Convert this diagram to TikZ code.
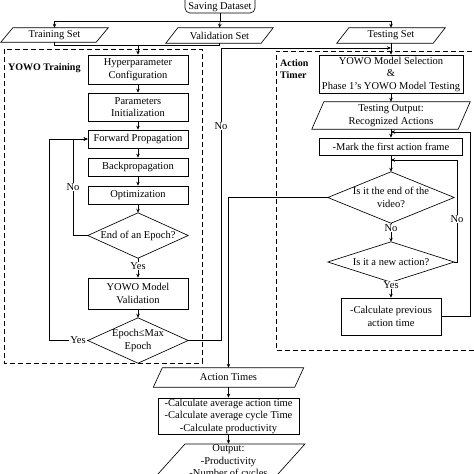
\documentclass[tikz,border=0pt]{standalone}
\usepackage{fontspec}
\setmainfont{Liberation Serif}
\usetikzlibrary{arrows.meta}
\newcommand{\paral}[2]{\draw[ln] ([xshift=#2]#1.north west) -- (#1.north east) -- ([xshift=-#2]#1.south east) -- (#1.south west) -- cycle;}
\newcommand{\diam}[1]{\draw[ln] (#1.north) -- (#1.east) -- (#1.south) -- (#1.west) -- cycle;}
\begin{document}
\begin{tikzpicture}[x=1pt,y=-1pt,
  every node/.style={font=\fontsize{10.5}{12.5}\selectfont, align=center, inner sep=0pt},
  ln/.style={line width=0.65pt},
  arr/.style={ln, -{Stealth[length=4pt,width=3.5pt]}},
  boxn/.style={draw, line width=0.65pt},
  lbl/.style={fill=white, inner sep=1pt},
  dashbox/.style={line width=0.8pt, dash pattern=on 5pt off 3pt},
  ttl/.style={font=\fontsize{10}{12}\selectfont\bfseries, align=left, anchor=west}
]
\useasboundingbox (0,0) rectangle (474,474);
\fill[white] (0,0) rectangle (474,474);
\clip (0,0) rectangle (474,474);

% top
\node[minimum width=70pt, minimum height=11pt] (sd) at (220,7.5) {Saving Dataset};
\draw[ln, rounded corners=5pt] (185,-10) -- (185,13) -- (255,13) -- (255,-10);
\node[minimum width=107pt, minimum height=14pt] (tr) at (54.5,35) {Training Set};
\node[minimum width=107pt, minimum height=15pt] (vs) at (219.5,35.5) {Validation Set};
\node[minimum width=108pt, minimum height=15pt] (ts) at (391,35.5) {Testing Set};
\paral{tr}{12pt}
\paral{vs}{12pt}
\paral{ts}{12pt}
\coordinate (t) at (220,21);
\draw[ln] (sd.south) -- (t);
\draw[ln] (tr.north |- t) -- (ts.north |- t);
\draw[arr] (tr.north |- t) -- (tr.north);
\draw[arr] (t) -- (vs.north);
\draw[arr] (ts.north |- t) -- (ts.north);

% dashed groups
\draw[dashbox] (4,49) rectangle (202,363);
\draw[dashbox] (480,51) -- (276,51) -- (276,350) -- (480,350);
\node[ttl] at (8,68) {YOWO Training};
\node[ttl] at (280,69) {Action\\Timer};

% left column
\node[boxn, minimum width=100pt, minimum height=29pt] (hyp) at (138,69.5) {Hyperparameter\\Configuration};
\node[boxn, minimum width=100pt, minimum height=28pt] (par) at (138,107) {Parameters\\Initialization};
\node[boxn, minimum width=100pt, minimum height=18pt] (fwd) at (138,139) {Forward Propagation};
\node[boxn, minimum width=100pt, minimum height=18pt] (bck) at (138,167) {Backpropagation};
\node[boxn, minimum width=100pt, minimum height=18pt] (opt) at (138,195) {Optimization};
\node[minimum width=100pt, minimum height=45pt] (eoe) at (138,235.5) {End of an Epoch?};
\node[boxn, minimum width=100pt, minimum height=31pt] (val) at (138,293.5) {YOWO Model\\Validation};
\node[minimum width=100pt, minimum height=45pt] (emx) at (138,340.5) {Epoch≤Max\\Epoch};
\diam{eoe}
\diam{emx}

\coordinate (j) at (138,45);
\draw[ln] (tr.south) -- (tr.south |- j) -- (vs.south |- j) -- (vs.south);
\draw[arr] (j) -- (hyp);
\draw[arr] (hyp) -- (par);
\draw[arr] (par) -- (fwd);
\draw[arr] (fwd) -- (bck);
\draw[arr] (bck) -- (opt);
\draw[arr] (opt) -- (eoe.north);
\draw[arr] (eoe.south) -- (val);
\node[lbl] at (138,266) {Yes};
\draw[arr] (val) -- (emx.north);
\draw[arr] (eoe.west) -- (73,235.5) |- (fwd.west);
\node[lbl] at (73,187) {No};
\draw[arr] (emx.west) -- (49,340.5) |- (fwd.west);
\node[lbl] at (78,340.5) {Yes};
\coordinate (nj) at (221,48);
\draw[arr] (emx.east) -- (nj |- emx.east) -- (nj) -- (ts.south |- nj);
\node[lbl] at (221,126) {No};

% right column
\node[boxn, minimum width=144pt, minimum height=38pt] (sel) at (391,74) {YOWO Model Selection\\\&\\Phase 1’s YOWO Model Testing};
\node[minimum width=158pt, minimum height=27pt] (tout) at (391,115.5) {Testing Output:\\Recognized Actions};
\paral{tout}{12pt}
\node[boxn, minimum width=143pt, minimum height=17pt] (mark) at (391,146.5) {-Mark the first action frame};
\node[minimum width=126pt, minimum height=51pt] (eov) at (391,197.5) {Is it the end of the\\video?};
\node[minimum width=126pt, minimum height=40pt] (nact) at (391,262) {Is it a new action?};
\diam{eov}
\diam{nact}
\node[boxn, minimum width=100pt, minimum height=37pt] (cprev) at (391,316.5) {-Calculate previous\\action time};

\draw[arr] (ts) -- (sel);
\draw[arr] (sel) -- (tout);
\draw[arr] (tout) -- (mark);
\draw[arr] (mark) -- (eov.north);
\draw[arr] (eov.south) -- (nact.north);
\node[lbl] at (391,228) {No};
\draw[arr] (nact.south) -- (cprev);
\node[lbl] at (391,285) {Yes};
\coordinate (l1) at (391,160);
\coordinate (l2) at (391,132);
\draw[arr] (nact.east) -- (457,262) |- (l1);
\node[lbl] at (457,219) {No};
\draw[arr] (cprev.east) -- (470,316.5) |- (l2);

% bottom
\node[minimum width=150pt, minimum height=19pt] (atimes) at (228.5,377.5) {Action Times};
\paral{atimes}{9pt}
\draw[arr] (eov.west) -| (atimes.north);
\node[boxn, minimum width=141pt, minimum height=36pt] (calcs) at (228.5,416) {-Calculate average action time\\-Calculate average cycle Time\\-Calculate productivity};
\node[minimum width=120pt, minimum height=36pt] (out) at (228.5,462) {Output:\\-Productivity\\-Number of cycles};
\draw[ln] (185,444) -- (305,444) -- (260,494) -- (140,494) -- cycle;
\draw[arr] (atimes) -- (calcs);
\draw[arr] (calcs) -- (out.north);
\end{tikzpicture}
\end{document}
